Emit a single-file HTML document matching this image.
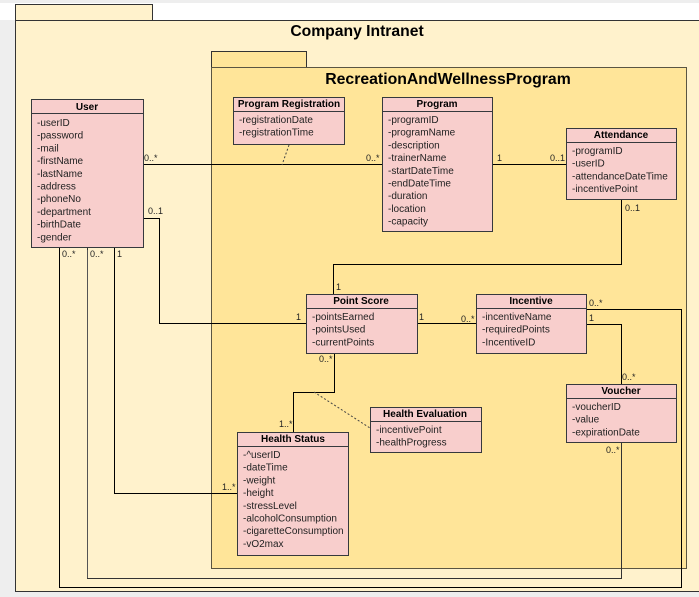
<!DOCTYPE html>
<html><head><meta charset="utf-8"><style>
html,body{margin:0;padding:0;background:#eeeeee;}
svg{display:block;font-family:"Liberation Sans",Arial,sans-serif;}
.c{fill:#f8cecc;stroke:#36393d;stroke-width:1;}
.h{font-size:10px;font-weight:bold;fill:#000;text-anchor:middle;}
.a{font-size:10px;fill:#222;}
.l{font-size:9px;fill:#222;}
.ln{fill:none;stroke:#000;stroke-width:1;}
</style></head><body>
<svg width="699" height="597" viewBox="0 0 699 597" xmlns="http://www.w3.org/2000/svg">
<rect x="0" y="0" width="699" height="597" fill="#eeeeee"/>
<rect x="0" y="3" width="699" height="17" fill="#ffffff"/>
<rect x="15.5" y="4.5" width="137" height="16" fill="#fff2cc" stroke="#333"/>
<rect x="15.5" y="20.5" width="690" height="571" fill="#fff2cc" stroke="#333"/>
<text x="357" y="36" font-size="15.7" font-weight="bold" text-anchor="middle">Company Intranet</text>
<rect x="211.5" y="51.5" width="95" height="16" fill="#ffe599" stroke="#333"/>
<rect x="211.5" y="67.5" width="475" height="501" fill="#ffe599" stroke="#5a5542"/>
<text x="448" y="84" font-size="15.8" font-weight="bold" text-anchor="middle">RecreationAndWellnessProgram</text>

<path class="ln" d="M143 164.5H382"/>
<path d="M289 145L282 165" stroke="#444" stroke-dasharray="2,2" fill="none"/>
<path class="ln" d="M492 164.5H566"/>
<path class="ln" d="M621.5 199V264.5H333.5V294"/>
<path class="ln" d="M143 218.5H159.5V323.5H306"/>
<path class="ln" d="M417 323.5H476"/>
<path class="ln" d="M587 324.5H621.5V384"/>
<path class="ln" d="M587 309.5H681.5V587.5H59.5V247"/>
<path d="M621.5 443V578.5H87.5V247" fill="none" stroke="#333" stroke-width="1"/>
<path d="M87.5 250V578" fill="none" stroke="#555" stroke-width="1"/>
<path class="ln" d="M114.5 247V493.5H237"/>
<path class="ln" d="M334.5 353V392.5H293.5V432"/>
<path d="M314 392L370 428" stroke="#444" stroke-dasharray="2,2" fill="none"/>

<g class="l">
<text x="144" y="161">0..*</text>
<text x="366" y="161">0..*</text>
<text x="497" y="161">1</text>
<text x="550" y="161">0..1</text>
<text x="625" y="211">0..1</text>
<text x="336" y="290">1</text>
<text x="148" y="214">0..1</text>
<text x="296" y="320">1</text>
<text x="419" y="320">1</text>
<text x="461" y="322">0..*</text>
<text x="589" y="306">0..*</text>
<text x="589" y="321">1</text>
<text x="622" y="380">0..*</text>
<text x="606" y="453">0..*</text>
<text x="62" y="257">0..*</text>
<text x="90" y="257">0..*</text>
<text x="117" y="257">1</text>
<text x="222" y="490">1..*</text>
<text x="319" y="362">0..*</text>
<text x="279" y="427">1..*</text>
</g>

<rect class="c" x="31.5" y="99.5" width="112" height="148"/>
<line x1="31.5" y1="113.5" x2="143.5" y2="113.5" stroke="#36393d"/>
<text class="h" x="87" y="110">User</text>
<g class="a">
<text x="37" y="126">-userID</text><text x="37" y="138.7">-password</text><text x="37" y="151.4">-mail</text>
<text x="37" y="164.1">-firstName</text><text x="37" y="176.8">-lastName</text><text x="37" y="189.5">-address</text>
<text x="37" y="202.2">-phoneNo</text><text x="37" y="214.9">-department</text><text x="37" y="227.6">-birthDate</text>
<text x="37" y="240.3">-gender</text></g>

<rect class="c" x="233.5" y="97.5" width="111" height="47"/>
<line x1="233.5" y1="111.5" x2="344.5" y2="111.5" stroke="#36393d"/>
<text class="h" x="289" y="107">Program Registration</text>
<g class="a"><text x="239" y="123">-registrationDate</text><text x="239" y="135.7">-registrationTime</text></g>

<rect class="c" x="382.5" y="97.5" width="110" height="134"/>
<line x1="382.5" y1="111.5" x2="492.5" y2="111.5" stroke="#36393d"/>
<text class="h" x="437" y="107">Program</text>
<g class="a">
<text x="388" y="123">-programID</text><text x="388" y="135.7">-programName</text><text x="388" y="148.4">-description</text>
<text x="388" y="161.1">-trainerName</text><text x="388" y="173.8">-startDateTime</text><text x="388" y="186.5">-endDateTime</text>
<text x="388" y="199.2">-duration</text><text x="388" y="211.9">-location</text><text x="388" y="224.6">-capacity</text></g>

<rect class="c" x="566.5" y="128.5" width="110" height="71"/>
<line x1="566.5" y1="142.5" x2="676.5" y2="142.5" stroke="#36393d"/>
<text class="h" x="621" y="138">Attendance</text>
<g class="a"><text x="572" y="154">-programID</text><text x="572" y="166.7">-userID</text><text x="572" y="179.4">-attendanceDateTime</text><text x="572" y="192.1">-incentivePoint</text></g>

<rect class="c" x="306.5" y="294.5" width="111" height="59"/>
<line x1="306.5" y1="308.5" x2="417.5" y2="308.5" stroke="#36393d"/>
<text class="h" x="361" y="304">Point Score</text>
<g class="a"><text x="312" y="320">-pointsEarned</text><text x="312" y="332.7">-pointsUsed</text><text x="312" y="345.4">-currentPoints</text></g>

<rect class="c" x="476.5" y="294.5" width="110" height="59"/>
<line x1="476.5" y1="308.5" x2="586.5" y2="308.5" stroke="#36393d"/>
<text class="h" x="531" y="304">Incentive</text>
<g class="a"><text x="482" y="320">-incentiveName</text><text x="482" y="332.7">-requiredPoints</text><text x="482" y="345.4">-IncentiveID</text></g>

<rect class="c" x="566.5" y="384.5" width="110" height="58"/>
<line x1="566.5" y1="398.5" x2="676.5" y2="398.5" stroke="#36393d"/>
<text class="h" x="621" y="394">Voucher</text>
<g class="a"><text x="572" y="410">-voucherID</text><text x="572" y="422.7">-value</text><text x="572" y="435.4">-expirationDate</text></g>

<rect class="c" x="370.5" y="407.5" width="111" height="45"/>
<line x1="370.5" y1="421.5" x2="481.5" y2="421.5" stroke="#36393d"/>
<text class="h" x="425" y="417">Health Evaluation</text>
<g class="a"><text x="376" y="433">-incentivePoint</text><text x="376" y="445.7">-healthProgress</text></g>

<rect class="c" x="237.5" y="432.5" width="111" height="123"/>
<line x1="237.5" y1="446.5" x2="348.5" y2="446.5" stroke="#36393d"/>
<text class="h" x="293" y="442">Health Status</text>
<g class="a">
<text x="243" y="458">-^userID</text><text x="243" y="470.7">-dateTime</text><text x="243" y="483.4">-weight</text>
<text x="243" y="496.1">-height</text><text x="243" y="508.8">-stressLevel</text><text x="243" y="521.5">-alcoholConsumption</text>
<text x="243" y="534.2">-cigaretteConsumption</text><text x="243" y="546.9">-vO2max</text></g>
</svg>
</body></html>
